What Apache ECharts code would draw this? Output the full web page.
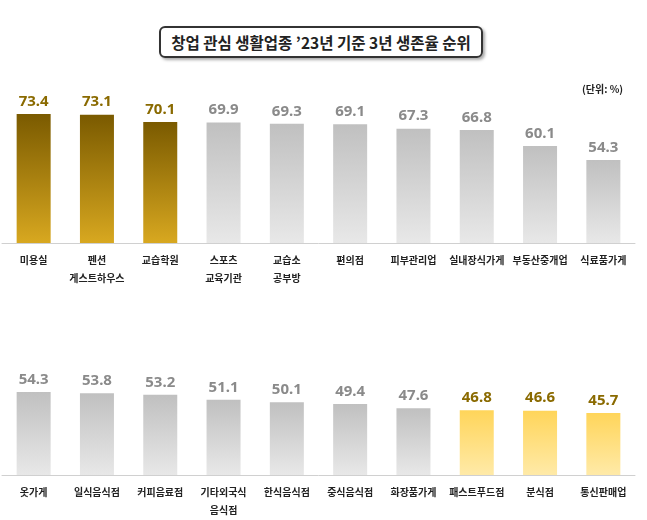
<!DOCTYPE html>
<html><head><meta charset="utf-8">
<script src="https://cdn.jsdelivr.net/npm/echarts@6/dist/echarts.min.js"></script>
<style>
body{margin:0;background:#fff}
#title{position:absolute;left:159px;top:26px;width:324px;height:32px;border:2px solid #333;border-radius:6px;box-shadow:2px 2px 3px #aaa;white-space:nowrap;
font:bold 15.5px "Noto Sans CJK KR";text-align:center;line-height:28px;color:#222;box-sizing:border-box}
#chart{width:647px;height:520px}
</style></head><body>
<div id="title">창업 관심 생활업종 ’23년 기준 3년 생존율 순위</div>
<div id="chart"></div>
<script>
var topCats = ['미용실', '펜션\n게스트하우스', '교습학원', '스포츠\n교육기관', '교습소\n공부방', '편의점', '피부관리업', '실내장식가게', '부동산중개업', '식료품가게']
var topVals = [73.4, 73.1, 70.1, 69.9, 69.3, 69.1, 67.3, 66.8, 60.1, 54.3]
var botCats = ['옷가게', '일식음식점', '커피음료점', '기타외국식\n음식점', '한식음식점', '중식음식점', '화장품가게', '패스트푸드점', '분식점', '통신판매업']
var botVals = [54.3, 53.8, 53.2, 51.1, 50.1, 49.4, 47.6, 46.8, 46.6, 45.7]
var topGold = [0, 1, 2]
var botYellow = [7, 8, 9]

function grad(a, b) {
    return new echarts.graphic.LinearGradient(0, 0, 0, 1, [{offset: 0, color: a}, {offset: 1, color: b}])
}
var gray = grad('#c0c0c0', '#e8e8e8')
function mk(vals, hi, hiColor) {
    return vals.map(function (v, i) {
        var on = hi.indexOf(i) >= 0
        return {value: v, itemStyle: {color: on ? hiColor : gray},
            label: {color: on ? '#8a6a00' : '#8a8a8a'}}
    })
}
var xBase = {type: 'category', axisTick: {show: false},
    axisLine: {lineStyle: {color: '#d0d0d0'}},
    axisLabel: {color: '#222', fontSize: 10, fontWeight: 'bold', fontFamily: 'Noto Sans CJK KR', lineHeight: 18, margin: 8, interval: 0}}
var yBase = {type: 'value', min: 20, max: 80, show: false}
var lbl = {show: true, position: 'top', fontSize: 15, fontWeight: 'bold', fontFamily: 'Noto Sans', distance: 5}

var chart = echarts.init(document.getElementById('chart'))
chart.setOption({
    animation: false,
    graphic: [{type: 'text', left: 582, top: 84, style: {text: '(단위: %)', font: 'bold 10px "Noto Sans CJK KR"', fill: '#222'}}],
    grid: [{left: 2, right: 12, top: 98, height: 145}, {left: 2, right: 12, top: 330, height: 145}],
    xAxis: [Object.assign({gridIndex: 0, data: topCats}, xBase), Object.assign({gridIndex: 1, data: botCats}, xBase)],
    yAxis: [Object.assign({gridIndex: 0}, yBase), Object.assign({gridIndex: 1}, yBase)],
    series: [
        {type: 'bar', xAxisIndex: 0, yAxisIndex: 0, barWidth: 34, label: lbl, data: mk(topVals, topGold, grad('#7a5a00', '#d8a820'))},
        {type: 'bar', xAxisIndex: 1, yAxisIndex: 1, barWidth: 34, label: lbl, data: mk(botVals, botYellow, grad('#ffd55a', '#ffeaa8'))}
    ]
})
</script>
</body></html>
